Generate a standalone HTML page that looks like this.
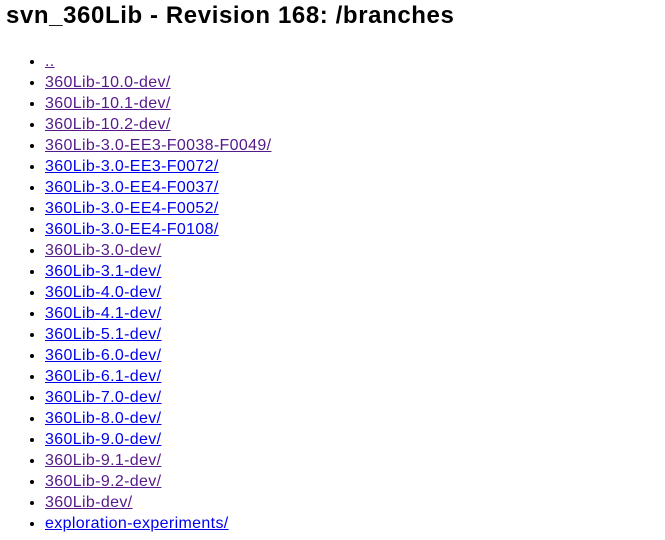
<!DOCTYPE html>
<html><head><meta charset="utf-8"><style>
body{margin:0;padding:0;background:#fff;font-family:"Liberation Sans",sans-serif;color:#000;}
h2{margin:0;position:absolute;left:6px;top:2px;font-size:24px;letter-spacing:0.6px;font-weight:bold;line-height:28px;}
ul{position:absolute;left:0;top:51px;margin:0;padding-left:45px;font-size:16px;letter-spacing:0.35px;line-height:21px;}
a{color:#0000ee;}
a.v{color:#551a8b;}
</style></head><body>
<h2>svn_360Lib - Revision 168: /branches</h2>
<ul>
<li><a class="v" href="#">..</a></li>
<li><a class="v" href="#">360Lib-10.0-dev/</a></li>
<li><a class="v" href="#">360Lib-10.1-dev/</a></li>
<li><a class="v" href="#">360Lib-10.2-dev/</a></li>
<li><a class="v" href="#">360Lib-3.0-EE3-F0038-F0049/</a></li>
<li><a href="#">360Lib-3.0-EE3-F0072/</a></li>
<li><a href="#">360Lib-3.0-EE4-F0037/</a></li>
<li><a href="#">360Lib-3.0-EE4-F0052/</a></li>
<li><a href="#">360Lib-3.0-EE4-F0108/</a></li>
<li><a class="v" href="#">360Lib-3.0-dev/</a></li>
<li><a href="#">360Lib-3.1-dev/</a></li>
<li><a href="#">360Lib-4.0-dev/</a></li>
<li><a href="#">360Lib-4.1-dev/</a></li>
<li><a href="#">360Lib-5.1-dev/</a></li>
<li><a href="#">360Lib-6.0-dev/</a></li>
<li><a href="#">360Lib-6.1-dev/</a></li>
<li><a href="#">360Lib-7.0-dev/</a></li>
<li><a href="#">360Lib-8.0-dev/</a></li>
<li><a href="#">360Lib-9.0-dev/</a></li>
<li><a class="v" href="#">360Lib-9.1-dev/</a></li>
<li><a class="v" href="#">360Lib-9.2-dev/</a></li>
<li><a class="v" href="#">360Lib-dev/</a></li>
<li><a href="#">exploration-experiments/</a></li>
</ul>
</body></html>
